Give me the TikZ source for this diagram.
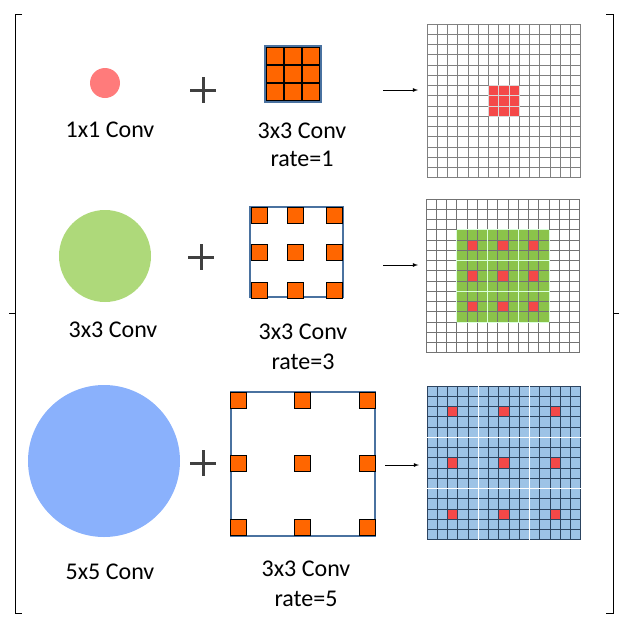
\documentclass[tikz,border=0pt]{standalone}
\usepackage{fontspec}
\setmainfont{Carlito}
\definecolor{pinkc}{HTML}{FF7B7B}
\definecolor{greenc}{HTML}{AED97A}
\definecolor{bluec}{HTML}{8AB1FC}
\definecolor{orangec}{HTML}{FF6600}
\definecolor{kboxc}{HTML}{4A72A0}
\definecolor{gfill}{HTML}{8BC34A}
\definecolor{bfill}{HTML}{9DC3E6}
\definecolor{redc}{HTML}{F44848}
\begin{document}
\begin{tikzpicture}[x=1pt,y=-1pt,
  lbl/.style={font=\fontsize{24}{28}\selectfont, inner sep=0pt},
  ker/.style={fill=orangec, draw=black, line width=0.6pt},
  kbox/.style={draw=kboxc, line width=1.4pt},
  arr/.style={-latex, line width=0.8pt},
  plus/.style={line width=3pt, draw=black!75}]
\useasboundingbox (0,0) rectangle (632,627);
% brackets
\draw[line width=0.8pt] (22,14) -- (15,14) -- (15,613) -- (22,613);
\draw[line width=0.8pt] (15,313) -- (9,313);
\draw[line width=0.8pt] (606,14) -- (613,14) -- (613,613) -- (606,613);
\draw[line width=0.8pt] (613,313) -- (619,313);
% circles
\fill[pinkc] (105,83) circle (15);
\fill[greenc] (105,256) circle (46);
\fill[bluec] (104,461) circle (76);
\node[lbl] (l1) at (110,130) {1x1 Conv};
\node[lbl] (l2) at (113,330) {3x3 Conv};
\node[lbl] (l3) at (110,572) {5x5 Conv};
% plus
\foreach \x/\y in {203/90,201/257,203/463}{
  \draw[plus] (\x-13,\y) -- (\x+13,\y); \draw[plus] (\x,\y-13) -- (\x,\y+13);}
% kernel 1
\node[kbox, minimum size=56pt, inner sep=0pt] (k1) at (293,74) {};
\foreach \i in {0,1,2}\foreach \j in {0,1,2}
  \draw[ker] (266+\i*18.3,47+\j*18.3) rectangle ++(17,17);
% kernel 2
\node[kbox, minimum width=93pt, minimum height=90pt, inner sep=0pt] (k2) at (296.5,252) {};
\foreach \x in {259,295,334}\foreach \y in {215,252,290}
  \draw[ker] (\x-8,\y-8) rectangle ++(16,16);
% kernel 3
\node[kbox, minimum size=144pt, inner sep=0pt] (k3) at (303,464) {};
\foreach \x in {238,302,367}\foreach \y in {400,463,527}
  \draw[ker] (\x-8,\y-8) rectangle ++(16,16);
\node[lbl] (t1) at (302,131) {3x3 Conv};
\node[lbl] (r1) at (302,159) {rate=1};
\node[lbl] (t2) at (303,332) {3x3 Conv};
\node[lbl] (r2) at (303,362) {rate=3};
\node[lbl] (t3) at (306,569) {3x3 Conv};
\node[lbl] (r3) at (306,599) {rate=5};
% grids
\def\c{10.25}
\def\G{153.75}
% grid 1
\begin{scope}[shift={(427,24)}]
 \foreach \k in {0,...,15}{\draw[black!50, line width=0.6pt] (\k*\c,0) -- (\k*\c,\G);
   \draw[black!50, line width=0.6pt] (0,\k*\c) -- (\G,\k*\c);}
 \foreach \i in {6,7,8}\foreach \j in {6,7,8}
   \fill[redc] (\i*\c,\j*\c) rectangle ++(\c,\c);
 \foreach \k in {6,7,8,9}{\draw[black!15,line width=1pt] (\k*\c,6*\c) -- (\k*\c,9*\c);
   \draw[black!15,line width=1pt] (6*\c,\k*\c) -- (9*\c,\k*\c);}
\end{scope}
% grid 2
\begin{scope}[shift={(426,199)}]
 \fill[gfill] (3*\c,3*\c) rectangle (12*\c,12*\c);
 \foreach \i in {4,7,10}\foreach \j in {4,7,10}
   \fill[redc] (\i*\c,\j*\c) rectangle ++(\c,\c);
 \foreach \k in {0,...,15}{\draw[black!55, line width=0.6pt] (\k*\c,0) -- (\k*\c,\G);
   \draw[black!55, line width=0.6pt] (0,\k*\c) -- (\G,\k*\c);}
 \foreach \k in {3,6,9,12}{\draw[white!85!green,line width=1pt] (\k*\c,3*\c) -- (\k*\c,12*\c);
   \draw[white!85!green,line width=1pt] (3*\c,\k*\c) -- (12*\c,\k*\c);}
\end{scope}
% grid 3
\begin{scope}[shift={(427,386)}]
 \fill[bfill] (0,0) rectangle (\G,\G);
 \foreach \i in {2,7,12}\foreach \j in {2,7,12}
   \fill[redc] (\i*\c,\j*\c) rectangle ++(\c,\c);
 \foreach \k in {0,...,15}{\draw[black!40!kboxc, line width=0.6pt] (\k*\c,0) -- (\k*\c,\G);
   \draw[black!40!kboxc, line width=0.6pt] (0,\k*\c) -- (\G,\k*\c);}
 \foreach \k in {5,10}{\draw[white,line width=1.2pt] (\k*\c,0) -- (\k*\c,\G);
   \draw[white,line width=1.2pt] (0,\k*\c) -- (\G,\k*\c);}
\end{scope}
% arrows
\coordinate (a1) at (383,90); \coordinate (b1) at (418,90);
\coordinate (a2) at (383,265); \coordinate (b2) at (418,265);
\coordinate (a3) at (385,465); \coordinate (b3) at (419,465);
\draw[arr] (a1) -- (b1);
\draw[arr] (a2) -- (b2);
\draw[arr] (a3) -- (b3);
\end{tikzpicture}
\end{document}
